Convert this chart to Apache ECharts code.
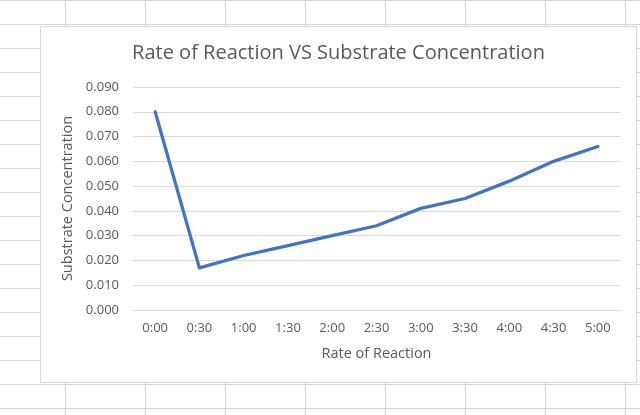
<!DOCTYPE html>
<html>
<head>
<meta charset="utf-8">
<script src="https://cdn.jsdelivr.net/npm/echarts@6/dist/echarts.min.js"></script>
<style>
  html, body { margin: 0; padding: 0; width: 640px; height: 415px; overflow: hidden; }
  body {
    background-color: #ffffff;
    background-image:
      linear-gradient(to right, #d4d4d4 1px, transparent 1px),
      linear-gradient(to bottom, #d4d4d4 1px, transparent 1px);
    background-size: 80px 24px, 80px 24px;
    background-position: 65px 0, 0 0;
  }
  #box {
    position: absolute; left: 40px; top: 26px; width: 597px; height: 357px;
    box-sizing: border-box; border: 1px solid #d9d9d9; background: #ffffff;
  }
  #chart { width: 595px; height: 355px; }
</style>
</head>
<body>
<div id="box"><div id="chart"></div></div>
<script>
const titleText = "Rate of Reaction VS Substrate Concentration";
const xAxisTitle = "Rate of Reaction";
const yAxisTitle = "Substrate Concentration";
const categories = ["0:00", "0:30", "1:00", "1:30", "2:00", "2:30", "3:00", "3:30", "4:00", "4:30", "5:00"];
const concentration = [0.080, 0.017, 0.022, 0.026, 0.030, 0.034, 0.041, 0.045, 0.052, 0.060, 0.066];
const yMin = 0, yMax = 0.09, yStep = 0.01;

const textColor = "#595959";
const fontFamily = "'Open Sans', Lato, sans-serif";

const chart = echarts.init(document.getElementById("chart"), null, { renderer: "canvas" });
chart.setOption({
  animation: false,
  backgroundColor: "#ffffff",
  textStyle: { fontFamily: fontFamily },
  title: {
    text: titleText,
    left: "center",
    top: 11,
    textStyle: { fontFamily: fontFamily, fontSize: 20, fontWeight: "normal", color: textColor }
  },
  grid: { left: 92, right: 16, top: 60, bottom: 72, containLabel: false },
  xAxis: {
    type: "category",
    data: categories,
    boundaryGap: true,
    name: xAxisTitle,
    nameLocation: "middle",
    nameGap: 36,
    nameTextStyle: { fontFamily: fontFamily, fontSize: 14.5, color: textColor },
    axisLine: { show: true, lineStyle: { color: "#d9d9d9", width: 1 } },
    axisTick: { show: false },
    axisLabel: { margin: 12, fontSize: 13, color: textColor, fontFamily: fontFamily }
  },
  yAxis: {
    type: "value",
    min: yMin, max: yMax, interval: yStep,
    name: yAxisTitle,
    nameLocation: "middle",
    nameGap: 47,
    nameTextStyle: { fontFamily: fontFamily, fontSize: 14.5, color: textColor },
    axisLine: { show: false },
    axisTick: { show: false },
    axisLabel: { margin: 14, fontSize: 13, color: textColor, fontFamily: fontFamily,
      formatter: v => v.toFixed(3) },
    splitLine: { lineStyle: { color: "#d9d9d9", width: 1 } }
  },
  series: [{
    type: "line",
    data: concentration,
    showSymbol: false,
    symbol: "none",
    smooth: false,
    lineStyle: { color: "#4472C4", width: 3.3, cap: "round", join: "round" },
    itemStyle: { color: "#4472C4" }
  }]
});
</script>
</body>
</html>
